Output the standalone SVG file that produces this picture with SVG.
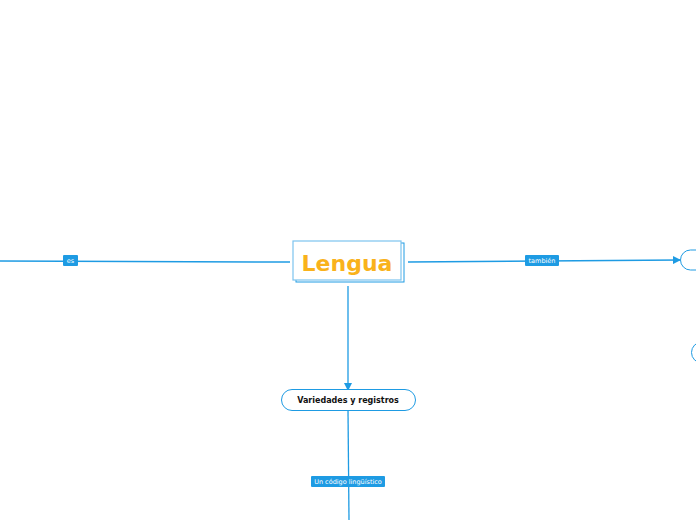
<svg xmlns="http://www.w3.org/2000/svg" width="696" height="520" viewBox="0 0 696 520">
<style>
.c{stroke:#1e9be3;stroke-width:1.3;fill:none}
.lb{fill:#1e9be3}
.lt{fill:#fff;font-family:"DejaVu Sans",sans-serif;font-size:6.5px;text-anchor:middle}
.n{fill:#fff;stroke:#1e9be3;stroke-width:1}
</style>
<defs><marker id="a" markerWidth="8" markerHeight="8" refX="7" refY="4" orient="auto" markerUnits="userSpaceOnUse"><path d="M0,0 L8,4 L0,8 Z" fill="#1e9be3"/></marker></defs>
<rect width="696" height="520" fill="#fff"/>
<g id="connectors">
<path class="c" d="M0,261 L255,262"/>
<path class="c" d="M255,262 L290,262" stroke-width="0.8"/>
<path class="c" d="M408,262 L680,260" marker-end="url(#a)"/>
<path class="c" d="M348,286 L348,390" marker-end="url(#a)"/>
<path class="c" d="M348,410 L349,520"/>
<rect class="lb" x="63" y="255" width="15" height="11" rx="1"/>
<text class="lt" x="70.5" y="262.8">es</text>
<rect class="lb" x="525" y="255" width="34" height="11" rx="1"/>
<text class="lt" x="542" y="262.8">también</text>
<rect class="lb" x="311" y="476" width="74" height="11" rx="1"/>
<text class="lt" x="348" y="483.8">Un código lingüístico</text>
</g>
<g id="lengua">
<rect x="296" y="243" width="108" height="39" fill="#fff" stroke="#1e9be3" stroke-width="1"/>
<rect x="293" y="241" width="108" height="39" fill="#fff" stroke="#7cc3ef" stroke-width="1.2"/>
<text x="347" y="271" font-family="DejaVu Sans,sans-serif" font-weight="bold" font-size="22" fill="#f9b21b" text-anchor="middle">Lengua</text>
</g>
<g id="variedades">
<rect class="n" x="281.5" y="389.5" width="134" height="21" rx="10.5"/>
<text x="348" y="403" font-family="DejaVu Sans,sans-serif" font-weight="bold" font-size="8" fill="#111" text-anchor="middle">Variedades y registros</text>
</g>
<g id="right1"><rect class="n" x="680.5" y="250" width="40" height="20" rx="10"/></g>
<g id="right2"><rect class="n" x="691.5" y="342" width="40" height="21" rx="10.5"/></g>
</svg>
